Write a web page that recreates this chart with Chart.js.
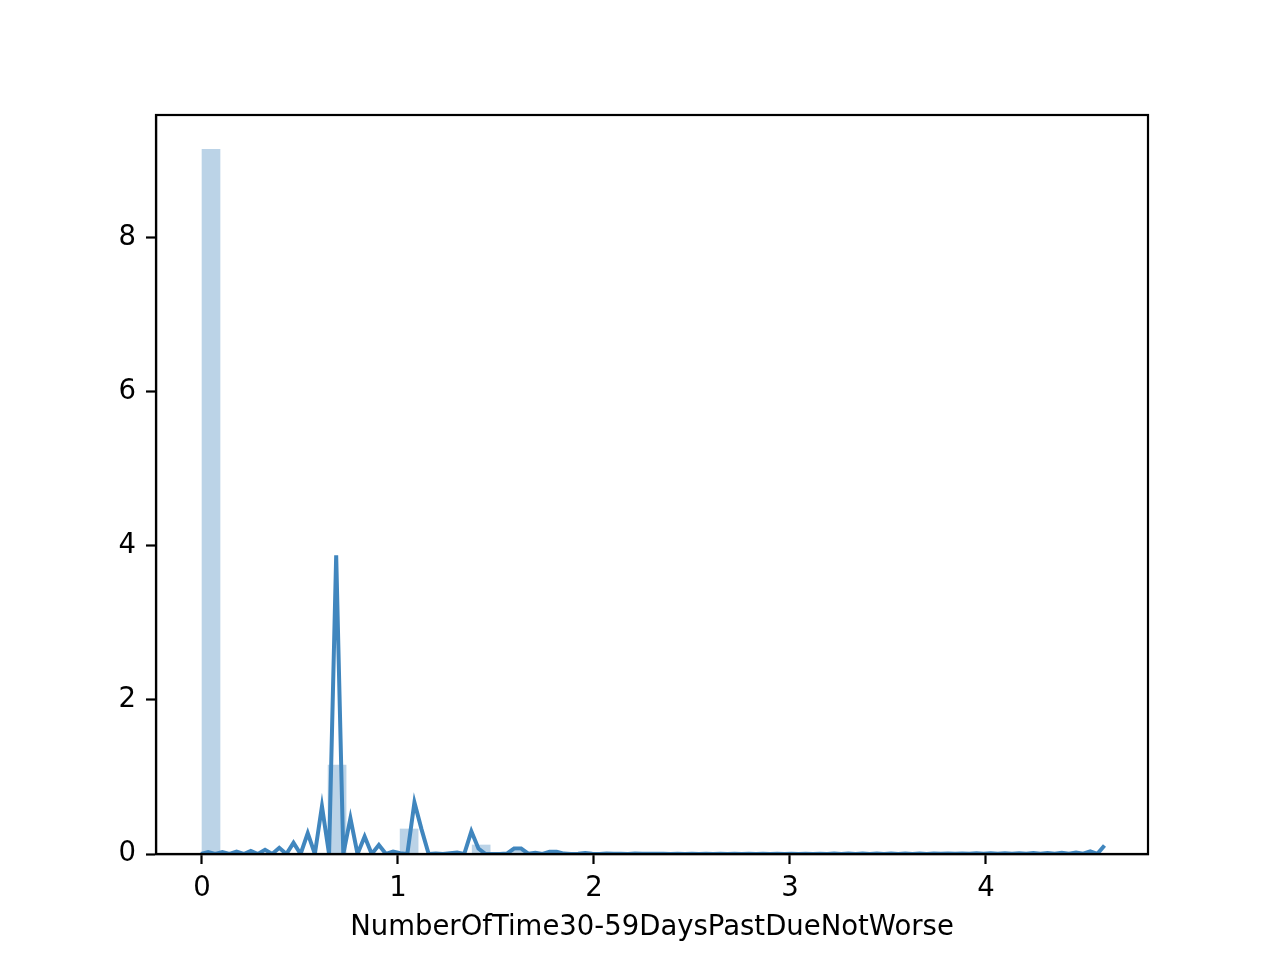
<!DOCTYPE html>
<html>
<head>
<meta charset="utf-8">
<script src="https://cdn.jsdelivr.net/npm/chart.js@4"></script>
<style>
  html, body { margin: 0; padding: 0; background: #fff; }
  #wrap { width: 1272px; height: 962px; position: relative; }
</style>
</head>
<body>
<div id="wrap"><canvas id="chart"></canvas></div>
<script>
// histogram: 50 bins between 0 and log1p(98)
const binStart = 0;
const binEnd = 4.595;
const binHeights = [
  9.15, 0, 0, 0, 0, 0, 0, 1.156, 0, 0,
  0, 0.325, 0, 0, 0, 0.117, 0, 0.04, 0, 0.015,
  0, 0.005, 0, 0, 0, 0, 0, 0, 0, 0,
  0, 0, 0, 0, 0, 0, 0, 0, 0, 0,
  0, 0, 0, 0, 0, 0, 0, 0, 0, 0.004
];

// kde curve, 128 grid points over the same range
const kdeStart = -0.005;
const kdeEnd = 4.605;
const kdeValues = [
  0.0, 0.026, 0.0, 0.024, 0.0, 0.03, 0.0, 0.04, 0.0, 0.055,
  0.0, 0.08, 0.0, 0.145, 0.0, 0.27, 0.0, 0.62, 0.0, 3.88,
  0.0, 0.465, 0.0, 0.227, 0.0, 0.118, 0.0, 0.03, 0.01, 0.0,
  0.67, 0.32, 0.0, 0.008, 0.0, 0.01, 0.02, 0.0, 0.295, 0.07,
  0.0, 0.0, 0.0, 0.005, 0.07, 0.07, 0.005, 0.015, 0.0, 0.03,
  0.03, 0.005, 0.0, 0.004, 0.012, 0.003, 0.0, 0.005, 0.002, 0.002,
  0.0, 0.005, 0.002, 0.004, 0.002, 0.004, 0.001, 0.003, 0.001, 0.003,
  0.001, 0.003, 0.001, 0.003, 0.001, 0.003, 0.001, 0.003, 0.001, 0.003,
  0.001, 0.004, 0.001, 0.004, 0.001, 0.004, 0.001, 0.004, 0.001, 0.005,
  0.001, 0.005, 0.001, 0.005, 0.001, 0.005, 0.001, 0.006, 0.001, 0.006,
  0.001, 0.007, 0.001, 0.007, 0.002, 0.008, 0.002, 0.008, 0.002, 0.009,
  0.002, 0.009, 0.002, 0.01, 0.002, 0.011, 0.002, 0.012, 0.002, 0.014,
  0.003, 0.016, 0.003, 0.02, 0.004, 0.035, 0.002, 0.11
];

const xTicks = [0, 1, 2, 3, 4];
const yTicks = [0, 2, 4, 6, 8];
const xTitle = 'NumberOfTime30-59DaysPastDueNotWorse';

const binWidth = (binEnd - binStart) / binHeights.length;
const barData = binHeights.map((h, i) => ({ x: binStart + (i + 0.5) * binWidth, y: h }));
const kdeStep = (kdeEnd - kdeStart) / (kdeValues.length - 1);
const lineData = kdeValues.map((v, i) => ({ x: kdeStart + i * kdeStep, y: v }));

const font = { family: 'DejaVu Sans', size: 27.5 };

const frame = {
  id: 'frame',
  afterDraw(chart) {
    const a = chart.chartArea;
    const ctx = chart.ctx;
    ctx.save();
    ctx.strokeStyle = '#000';
    ctx.lineWidth = 2.2;
    ctx.strokeRect(a.left, a.top, a.right - a.left, a.bottom - a.top);
    ctx.restore();
  }
};

new Chart(document.getElementById('chart'), {
  type: 'bar',
  data: {
    datasets: [
      {
        type: 'line',
        data: lineData,
        borderColor: 'rgb(64,134,190)',
        borderWidth: 4,
        pointRadius: 0,
        tension: 0,
        fill: false,
        order: 0
      },
      {
        type: 'bar',
        data: barData,
        backgroundColor: 'rgb(187,211,231)',
        barThickness: 18,
        borderWidth: 0,
        order: 1
      }
    ]
  },
  options: {
    responsive: true,
    maintainAspectRatio: false,
    animation: false,
    layout: { padding: { top: 115, right: 124, left: 0, bottom: 0 } },
    plugins: { legend: { display: false }, tooltip: { enabled: false } },
    scales: {
      x: {
        type: 'linear',
        offset: false,
        min: -0.2347,
        max: 4.827,
        afterFit: s => { s.height = 108; },
        afterBuildTicks: s => { s.ticks = xTicks.map(v => ({ value: v })); },
        ticks: { font, color: '#000', padding: 8, maxRotation: 0 },
        grid: { offset: false, drawOnChartArea: false, tickLength: 10, tickWidth: 2.2, tickColor: '#000' },
        border: { display: true, color: '#000', width: 2.2 },
        title: { display: true, text: xTitle, font, color: '#000', padding: { top: 0, bottom: 18 } }
      },
      y: {
        min: 0,
        max: 9.597,
        afterFit: s => { s.width = 156; },
        afterBuildTicks: s => { s.ticks = yTicks.map(v => ({ value: v })); },
        ticks: { font, color: '#000', padding: 10 },
        grid: { drawOnChartArea: false, tickLength: 10, tickWidth: 2.2, tickColor: '#000' },
        border: { display: true, color: '#000', width: 2.2 }
      }
    }
  },
  plugins: [frame]
});
</script>
</body>
</html>
